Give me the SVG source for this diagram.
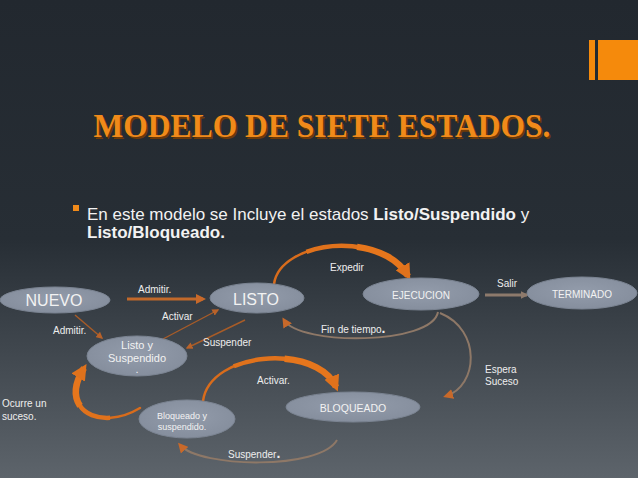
<svg xmlns="http://www.w3.org/2000/svg" width="638" height="478" viewBox="0 0 638 478">
<defs>
<linearGradient id="bg" x1="0" y1="0" x2="0" y2="1">
<stop offset="0" stop-color="#22282f"/>
<stop offset="0.5" stop-color="#272e35"/>
<stop offset="1" stop-color="#5d646b"/>
</linearGradient>
<radialGradient id="nodeFill" cx="0.5" cy="0.45" r="0.6">
<stop offset="0" stop-color="#939cab"/>
<stop offset="1" stop-color="#848d9c"/>
</radialGradient>
<marker id="bigHead" viewBox="0 0 10 10" refX="7" refY="5" markerWidth="16" markerHeight="16" markerUnits="userSpaceOnUse" orient="auto">
<path d="M0,0 L10,5 L0,10 z" fill="#e0721c"/>
</marker>
<marker id="midHead" viewBox="0 0 10 10" refX="7" refY="5" markerWidth="10" markerHeight="10" markerUnits="userSpaceOnUse" orient="auto">
<path d="M0,0 L10,5 L0,10 z" fill="#c8692a"/>
</marker>
<marker id="smallHead" viewBox="0 0 10 10" refX="8" refY="5" markerWidth="7" markerHeight="7" markerUnits="userSpaceOnUse" orient="auto">
<path d="M0,0 L10,5 L0,10 z" fill="#b8622a"/>
</marker>
<marker id="grayHead" viewBox="0 0 10 10" refX="8" refY="5" markerWidth="8" markerHeight="8" markerUnits="userSpaceOnUse" orient="auto">
<path d="M0,0 L10,5 L0,10 z" fill="#8d7a6c"/>
</marker>
</defs>
<style>
.node ellipse{fill:url(#nodeFill);stroke:#7b8492;stroke-width:1}
.t{font-family:"Liberation Sans",Arial,sans-serif;fill:#f2f2f2}
.lbl{font-family:"Liberation Sans",Arial,sans-serif;fill:#eeeeee;font-size:10px}
.b1{fill:none;stroke:#d86c1c;stroke-width:2.5;stroke-linecap:round}
.b2{fill:none;stroke:#e0721c;stroke-width:4.5;stroke-dasharray:0 30 70 0}
.b3{fill:none;stroke:#e6761c;stroke-width:6.5;stroke-dasharray:0 62 38 0;marker-end:url(#bigHead)}
.thin{fill:none;stroke:#a85c28;stroke-width:1.4;marker-end:url(#smallHead)}
.soft{fill:none;stroke:#8e7867;stroke-width:2;marker-end:url(#midHead)}
</style>
<rect x="0" y="0" width="638" height="478" fill="url(#bg)"/>
<rect x="589" y="40" width="6" height="40" fill="#f58a0c"/>
<rect x="598" y="40" width="40" height="40" fill="#f58a0c"/>
<text x="323.5" y="138.5" text-anchor="middle" font-family="'Liberation Serif',serif" font-weight="bold" font-size="33" fill="#6e3a08" textLength="457" lengthAdjust="spacingAndGlyphs">MODELO DE SIETE ESTADOS.</text>
<text x="322" y="137" text-anchor="middle" font-family="'Liberation Serif',serif" font-weight="bold" font-size="33" fill="#f08a1a" textLength="457" lengthAdjust="spacingAndGlyphs">MODELO DE SIETE ESTADOS.</text>
<rect x="73" y="205" width="6" height="6" fill="#f08a1a"/>
<text class="t" x="87" y="220" font-size="17">En este modelo se Incluye el estados  <tspan font-weight="bold">Listo/Suspendido</tspan> y</text>
<text class="t" x="87" y="238" font-size="17" font-weight="bold">Listo/Bloqueado.</text>
<g id="connectors">
<path class="b1" pathLength="100" d="M274 284 C280 240 382 230 408 276"/>
<path class="b2" pathLength="100" d="M274 284 C280 240 382 230 408 276"/>
<path class="b3" pathLength="100" d="M274 284 C280 240 382 230 408 276"/>
<path class="b1" pathLength="100" d="M203 401 C210 350 318 344 336 387"/>
<path class="b2" pathLength="100" d="M203 401 C210 350 318 344 336 387"/>
<path class="b3" pathLength="100" d="M203 401 C210 350 318 344 336 387"/>
<path class="b1" pathLength="100" d="M140 408 C100 432 58 410 84 368"/>
<path class="b2" pathLength="100" d="M140 408 C100 432 58 410 84 368"/>
<path class="b3" pathLength="100" d="M140 408 C100 432 58 410 84 368"/>
<path class="soft" d="M438 312 C432 345 300 346 284 320"/>
<path class="soft" d="M440 313 C482 330 478 386 446 396"/>
<path class="soft" d="M337 440 C320 470 200 468 180 445"/>
<path fill="none" stroke="#c2692a" stroke-width="3" marker-end="url(#midHead)" d="M127 299 L203 299"/>
<path fill="none" stroke="#8d7a6c" stroke-width="3" marker-end="url(#grayHead)" d="M485 295 L527 295"/>
<path class="thin" d="M75 315 L102 338"/>
<path class="thin" d="M163 339 L218 310"/>
<path class="thin" d="M245 320 L187 348"/>
</g>
<g id="nuevo" class="node"><ellipse cx="55" cy="300" rx="55" ry="13"/><text class="t" x="54" y="306" font-size="16" text-anchor="middle">NUEVO</text></g>
<g id="listo" class="node"><ellipse cx="257" cy="298" rx="47" ry="15"/><text class="t" x="256" y="305" font-size="16" text-anchor="middle">LISTO</text></g>
<g id="ejecucion" class="node"><ellipse cx="421" cy="294" rx="58" ry="16"/><text class="t" x="421" y="299" font-size="10" text-anchor="middle">EJECUCION</text></g>
<g id="terminado" class="node"><ellipse cx="582" cy="293" rx="55" ry="16"/><text class="t" x="582" y="298" font-size="10" text-anchor="middle">TERMINADO</text></g>
<g id="listo-suspendido" class="node"><ellipse cx="137" cy="356" rx="50" ry="20"/><text class="t" x="137" y="349" font-size="11" text-anchor="middle">Listo y</text><text class="t" x="137" y="362" font-size="11" text-anchor="middle">Suspendido</text><text class="t" x="137" y="373" font-size="11" text-anchor="middle">.</text></g>
<g id="bloqueado-suspendido" class="node"><ellipse cx="187" cy="419" rx="48" ry="19"/><text class="t" x="182" y="419" font-size="9" text-anchor="middle">Bloqueado y</text><text class="t" x="182" y="430" font-size="9" text-anchor="middle">suspendido.</text></g>
<g id="bloqueado" class="node"><ellipse cx="353" cy="407" rx="67" ry="15"/><text class="t" x="353" y="412" font-size="10.5" text-anchor="middle">BLOQUEADO</text></g>
<g id="labels">
<text class="lbl" x="330" y="271">Expedir</text>
<text class="lbl" x="497" y="287">Salir</text>
<text class="lbl" x="138" y="293" font-size="9.5">Admitir.</text>
<text class="lbl" x="162" y="320" font-size="9.5">Activar</text>
<text class="lbl" x="53" y="334" font-size="9.5">Admitir.</text>
<text class="lbl" x="203" y="346">Suspender</text>
<text class="lbl" x="321" y="333" font-size="11">Fin de tiempo<tspan font-weight="bold" font-size="14">.</tspan></text>
<text class="lbl" x="257" y="384" font-size="11">Activar.</text>
<text class="lbl" x="485" y="373">Espera</text>
<text class="lbl" x="485" y="385">Suceso</text>
<text class="lbl" x="2" y="407">Ocurre un</text>
<text class="lbl" x="2" y="420">suceso.</text>
<text class="lbl" x="228" y="458" font-size="11">Suspender<tspan font-weight="bold" font-size="14">.</tspan></text>
</g>
</svg>
